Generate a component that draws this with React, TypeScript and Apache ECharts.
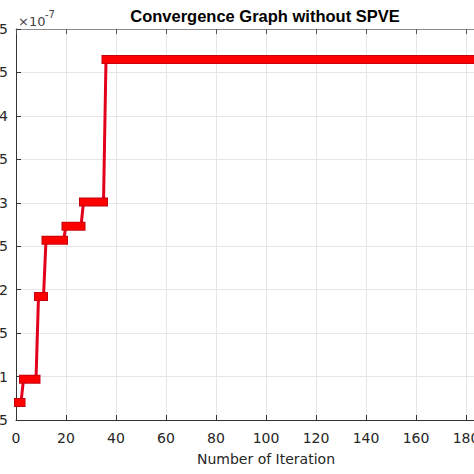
import React, { useEffect, useRef } from "react";
import * as echarts from "echarts";

// Plateaus of the convergence curve (fitness in units of 1e-7)
const iterStart = [1, 3, 9, 12, 20, 27, 36];
const iterEnd = [2, 8, 11, 19, 26, 35, 200];
const fitness = [0.7, 0.97, 1.92, 2.57, 2.73, 3.01, 4.65];

const xTicks = { min: 0, max: 200, interval: 20 };
const yTicks = { min: 0.5, max: 5, interval: 0.5 };

const FONT = "DejaVu Sans, Arial, sans-serif";
const TITLE_FONT = "Liberation Sans, Arial, Helvetica, sans-serif";

export default function App() {
  const ref = useRef<HTMLDivElement>(null);
  useEffect(() => {
    const chart = echarts.init(ref.current!, null, { renderer: "svg" });

    const stepData: number[][] = [];
    iterStart.forEach((s, i) => {
      stepData.push([s, fitness[i]]);
      stepData.push([iterEnd[i], fitness[i]]);
    });

    const plateauSeries: any[] = [];
    iterStart.forEach((s, i) => {
      const d = [
        [s, fitness[i]],
        [iterEnd[i], fitness[i]],
      ];
      plateauSeries.push({
        type: "line",
        xAxisIndex: 0,
        yAxisIndex: 0,
        data: d,
        symbol: "none",
        lineStyle: { color: "#c4000e", width: 9, cap: "square" },
        z: 3,
        silent: true,
      });
      plateauSeries.push({
        type: "line",
        xAxisIndex: 0,
        yAxisIndex: 0,
        data: d,
        symbol: "none",
        lineStyle: { color: "#ff0000", width: 7, cap: "square" },
        z: 4,
        silent: true,
      });
    });

    const axisTextColor = "#262626";

    chart.setOption({
      animation: false,
      grid: {
        left: 16,
        top: 29,
        width: 500,
        height: 391,
        containLabel: false,
        outerBoundsMode: "none",
      },
      xAxis: [
        {
          type: "value",
          min: xTicks.min,
          max: xTicks.max,
          interval: xTicks.interval,
          position: "bottom",
          name: "Number of Iteration",
          nameLocation: "middle",
          nameGap: 32,
          nameTextStyle: { fontFamily: FONT, fontSize: 14, color: axisTextColor },
          axisLine: { show: true, onZero: false, lineStyle: { color: "#333", width: 1 } },
          axisTick: { show: true, inside: true, length: 5, lineStyle: { color: "#333" } },
          axisLabel: { fontFamily: FONT, fontSize: 14, color: axisTextColor, margin: 11 },
          splitLine: { show: true, lineStyle: { color: "#e6e6e6", width: 1 } },
        },
        {
          type: "value",
          min: xTicks.min,
          max: xTicks.max,
          interval: xTicks.interval,
          position: "top",
          axisLine: { show: true, onZero: false, lineStyle: { color: "#8a8a8a", width: 1 } },
          axisTick: { show: true, inside: true, length: 5, lineStyle: { color: "#555" } },
          axisLabel: { show: false },
          splitLine: { show: false },
        },
      ],
      yAxis: [
        {
          type: "value",
          min: yTicks.min,
          max: yTicks.max,
          interval: yTicks.interval,
          position: "left",
          axisLine: { show: true, onZero: false, lineStyle: { color: "#333", width: 1 } },
          axisTick: { show: true, inside: true, length: 5, lineStyle: { color: "#333" } },
          axisLabel: {
            fontFamily: FONT,
            fontSize: 14,
            color: axisTextColor,
            margin: 8,
            formatter: (v: number) => String(Math.round(v * 10) / 10),
          },
          splitLine: { show: true, lineStyle: { color: "#e6e6e6", width: 1 } },
        },
      ],
      series: [
        {
          type: "line",
          data: stepData,
          symbol: "none",
          lineStyle: { color: "#e3001b", width: 3 },
          z: 2,
          silent: true,
        },
        ...plateauSeries,
      ],
      graphic: [
        {
          type: "text",
          x: 265,
          y: 16,
          style: {
            text: "Convergence Graph without SPVE",
            fontFamily: TITLE_FONT,
            fontSize: 16.5,
            fontWeight: "bold",
            fill: "#000",
            align: "center",
            verticalAlign: "middle",
          },
        },
        {
          type: "text",
          x: 18,
          y: 21,
          style: {
            text: "×10",
            fontFamily: FONT,
            fontSize: 13,
            fill: "#444",
            align: "left",
            verticalAlign: "middle",
          },
        },
        {
          type: "text",
          x: 45,
          y: 14,
          style: {
            text: "-7",
            fontFamily: FONT,
            fontSize: 10,
            fill: "#444",
            align: "left",
            verticalAlign: "middle",
          },
        },
      ],
    });
    return () => chart.dispose();
  }, []);
  return (
    <div
      ref={ref}
      style={{ position: "absolute", left: 0, top: 0, width: 474, height: 474 }}
    />
  );
}
